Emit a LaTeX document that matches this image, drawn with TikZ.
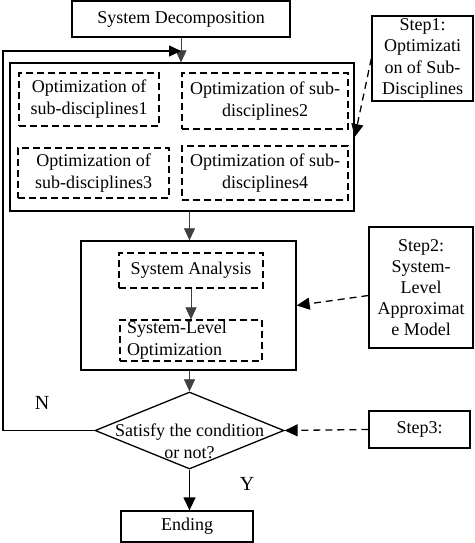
\documentclass[tikz,border=0pt]{standalone}
\usepackage{fontspec}
\setmainfont{Liberation Serif}
\usetikzlibrary{arrows.meta,shapes.geometric}
\tikzset{
  txt/.style={font=\fontsize{18pt}{22pt}\selectfont, align=center, inner sep=0pt},
  box/.style={txt, draw, line width=1.3pt, rectangle},
  dbox/.style={box, dash pattern=on 7pt off 4pt},
  arr/.style={-{Triangle[length=12pt,width=11pt]}, line width=0.7pt, black!75},
  thickarr/.style={-{Triangle[length=13pt,width=12pt]}, line width=1.3pt},
  darr/.style={-{Triangle[length=13pt,width=12pt]}, line width=1.3pt, dash pattern=on 7pt off 5pt},
  loopline/.style={line width=1.3pt, -{Triangle[length=12pt,width=11pt]}},
  lbl/.style={font=\fontsize{20pt}{22pt}\selectfont, inner sep=0pt}
}
\begin{document}
\begin{tikzpicture}[x=1pt,y=-1pt]
\useasboundingbox (0,0) rectangle (474,543);
% top box
\node[box, minimum width=218pt, minimum height=36pt] (sd) at (181,19) {System Decomposition};
% big box 1
\node[box, minimum width=344pt, minimum height=148pt] (big1) at (182,137) {};
\node[dbox, minimum width=140pt, minimum height=53pt] (sub1) at (89,99.5) {Optimization of\\sub-disciplines1};
\node[dbox, minimum width=166pt, minimum height=56pt] (sub2) at (265,101) {Optimization of sub-\\disciplines2};
\node[dbox, minimum width=151pt, minimum height=50pt] (sub3) at (93.5,173) {Optimization of\\sub-disciplines3};
\node[dbox, minimum width=166pt, minimum height=54pt] (sub4) at (265,173) {Optimization of sub-\\disciplines4};
% step 1
\node[box, minimum width=101pt, minimum height=85pt, font=\fontsize{18pt}{21.5pt}\selectfont] (step1) at (422.5,58.5) {Step1:\\Optimizati\\on of Sub-\\Disciplines};
% big box 2
\node[box, minimum width=215pt, minimum height=129pt] (big2) at (188.5,305.5) {};
\node[dbox, minimum width=144pt, minimum height=35pt] (sa) at (191,270.5) {System Analysis};
\node[dbox, minimum height=41pt, text width=128pt, inner xsep=7pt, align=left] (slo) at (191,340.5) {System-Level\\Optimization};
% step 2
\node[box, minimum width=104pt, minimum height=121pt, font=\fontsize{18pt}{21pt}\selectfont] (step2) at (421,287.5) {Step2:\\System-\\Level\\Approximat\\e Model};
% diamond
\node[draw, diamond, line width=1.3pt, minimum width=189pt, minimum height=77pt, inner sep=0pt] (d) at (189.5,430.5) {};
\node[txt] (dt) at (189.5,441) {Satisfy the condition\\or not?};
% step 3
\node[box, minimum width=101pt, minimum height=37pt] (step3) at (419.5,429.5) {Step3:};
% ending
\node[box, minimum width=132pt, minimum height=31pt] (end) at (187,526.5) {Ending};
% labels
\node[lbl] (N) at (42,403) {N};
\node[lbl] (Y) at (247,484) {Y};
% connectors
\coordinate (merge) at (181,51);
\draw[arr] (sd.south) -- (big1.north -| sd.south);
\draw[loopline] (d.west) -- (3,430.5) |- (merge);
\draw[arr] (big1.south -| d.north) -- (big2.north -| d.north);
\draw[arr] (sa.south) -- (slo.north);
\draw[arr] (big2.south -| d.north) -- (d.north);
\draw[thickarr] (d.south) -- (end.north -| d.south);
\draw[darr] (step1.west) -- (big1.east);
\draw[darr] ([yshift=-8pt]step2.west) -- (big2.east);
\draw[darr] (step3.west) -- (d.east);
\end{tikzpicture}
\end{document}
